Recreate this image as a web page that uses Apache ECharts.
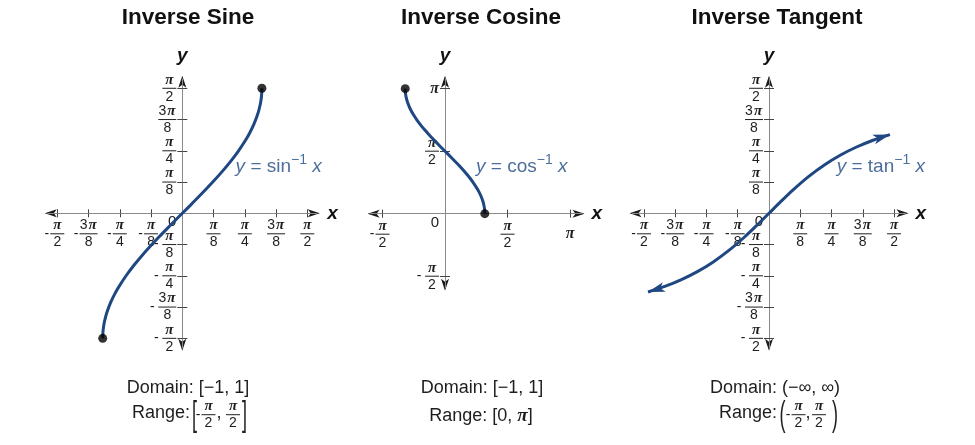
<!DOCTYPE html>
<html><head><meta charset="utf-8">
<script src="https://cdn.jsdelivr.net/npm/echarts@6/dist/echarts.min.js"></script>
<style>html,body{margin:0;padding:0;background:#fff}#c{width:975px;height:445px}</style>
</head><body><div id="c"></div>
<script>
// ---------------- data ----------------
const titles = ['Inverse Sine', 'Inverse Cosine', 'Inverse Tangent'];

const sinX = [-1,-0.999,-0.995,-0.99,-0.98,-0.95,-0.9,-0.85,-0.8,-0.7,-0.6,-0.5,-0.4,-0.3,-0.2,-0.1,0,0.1,0.2,0.3,0.4,0.5,0.6,0.7,0.8,0.85,0.9,0.95,0.98,0.99,0.995,0.999,1];
const sinY = [-1.5708,-1.5261,-1.4706,-1.4293,-1.3705,-1.2532,-1.1198,-1.0160,-0.9273,-0.7754,-0.6435,-0.5236,-0.4115,-0.3047,-0.2014,-0.1002,0,0.1002,0.2014,0.3047,0.4115,0.5236,0.6435,0.7754,0.9273,1.0160,1.1198,1.2532,1.3705,1.4293,1.4706,1.5261,1.5708];
const sinEnds = [[-1, -1.5708], [1, 1.5708]];

const cosX = [-1,-0.999,-0.995,-0.99,-0.98,-0.95,-0.9,-0.85,-0.8,-0.7,-0.6,-0.5,-0.4,-0.3,-0.2,-0.1,0,0.1,0.2,0.3,0.4,0.5,0.6,0.7,0.8,0.85,0.9,0.95,0.98,0.99,0.995,0.999,1];
const cosY = [3.1416,3.0969,3.0414,3.0001,2.9413,2.8240,2.6906,2.5868,2.4981,2.3462,2.2143,2.0944,1.9823,1.8755,1.7722,1.6710,1.5708,1.4706,1.3694,1.2661,1.1593,1.0472,0.9273,0.7954,0.6435,0.5548,0.4510,0.3176,0.2003,0.1415,0.1002,0.0447,0];
const cosEnds = [[-1, 3.1416], [1, 0]];

const tanX = [-1.52,-1.3,-1.1,-0.9,-0.7,-0.5,-0.3,-0.15,0,0.15,0.3,0.5,0.7,0.9,1.1,1.3,1.52];
const tanY = [-0.9890,-0.9151,-0.8330,-0.7328,-0.6107,-0.4636,-0.2915,-0.1489,0,0.1489,0.2915,0.4636,0.6107,0.7328,0.8330,0.9151,0.9890];

// tick labels
const sinXTicks = ['-π/2','-3π/8','-π/4','-π/8','π/8','π/4','3π/8','π/2'];
const sinYTicks = ['-π/2','-3π/8','-π/4','-π/8','π/8','π/4','3π/8','π/2'];
const cosXTicks = ['-π/2','π/2','π'];
const cosYTicks = ['-π/2','π/2','π'];
const tanXTicks = ['-π/2','-3π/8','-π/4','-π/8','π/8','π/4','3π/8','π/2'];
const tanYTicks = ['-π/2','-3π/8','-π/4','-π/8','π/8','π/4','3π/8','π/2'];

// function labels and their anchor (data units)
const fnNames = ['sin', 'cos', 'tan'];
const sinLabelAt = [0.67, 0.58];
const cosLabelAt = [0.78, 1.17];
const tanLabelAt = [0.85, 0.58];

// bottom texts
const domainTexts = ['Domain: [−1, 1]', 'Domain: [−1, 1]', 'Domain: (−∞, ∞)'];
const rangeLow = ['-π/2', '0', '-π/2'];
const rangeHigh = ['π/2', 'π', 'π/2'];
const rangeBrackets = [['[', ']'], ['[', ']'], ['(', ')']];

// ---------------- helpers ----------------
const FONT = '"Liberation Sans", Arial, sans-serif';
const PIFONT = '"Liberation Serif", "Times New Roman", serif';
const INK = '#1e1e1e';
const BLUE = '#1f4781';

function parse(l) {
  const neg = l[0] === '-';
  const s = neg ? l.slice(1) : l;
  const parts = s.split('π');
  return { neg, coef: parts[0], den: parts.length > 1 && parts[1] ? parts[1].slice(1) : '' };
}
function valueOf(l) {
  if (l === '0') return 0;
  const p = parse(l);
  return (p.neg ? -1 : 1) * (p.coef ? +p.coef : 1) * Math.PI / (p.den ? +p.den : 1);
}
function richStyles() {
  const base = { color: INK, fill: INK, fontFamily: FONT, fontSize: 14, align: 'center' };
  const pi = Object.assign({}, base, { fontFamily: PIFONT, fontWeight: 'bold', fontStyle: 'italic', fontSize: 15 });
  const bar = (w) => ({ width: w, height: 1, fontSize: 1, lineHeight: 5, backgroundColor: INK, align: 'center' });
  const m = (o) => Object.assign({}, base, o);
  const mp = (o) => Object.assign({}, pi, o);
  return {
    pad: m({ width: 7, lineHeight: 12 }),
    padm: m({ width: 7, lineHeight: 5 }),
    neg: m({ width: 7, lineHeight: 5 }),
    padY: m({ width: 12, lineHeight: 12 }),
    padYm: m({ width: 12, lineHeight: 5 }),
    negY: m({ width: 12, lineHeight: 5 }),
    p14: mp({ width: 14, lineHeight: 12 }),
    c: m({ width: 8, lineHeight: 12 }),
    q: mp({ width: 10, lineHeight: 12 }),
    b14: bar(14), b18: bar(18),
    d14: m({ width: 14, lineHeight: 12 }),
    d18: m({ width: 18, lineHeight: 12 }),
    e14: m({ width: 14, lineHeight: 12 }),
    pim: mp({ width: 14, lineHeight: 5, fontSize: 16 }),
    pib: mp({ fontSize: 16 }),
    z: m({ fontSize: 15, padding: [18, 0, 0, 0] })
  };
}
function fracLabel(l, side) {
  const p = parse(l);
  const X = side === 'x';
  const L = X ? '{pad| }' : '{padY| }';
  const Lm = p.neg ? (X ? '{neg|-}' : '{negY|-}') : (X ? '{padm| }' : '{padYm| }');
  const R = X ? '{pad| }' : '';
  const Rm = X ? '{padm| }' : '';
  if (!p.den && !p.coef) {
    if (!X) return '{pib|π}';
    return L + '{e14| }' + R + '\n' + Lm + '{pim|π}' + Rm + '\n' + L + '{e14| }' + R;
  }
  const w = p.coef ? 18 : 14;
  const num = p.coef ? '{c|' + p.coef + '}{q|π}' : '{p14|π}';
  return L + num + R + '\n' + Lm + '{b' + w + '| }' + Rm + '\n' + L + '{d' + w + '|' + p.den + '}' + R;
}
function makeFormatter(labels, side) {
  return function (v) {
    if (Math.abs(v) < 1e-9) return side === 'y' ? '{z|0}' : '';
    for (const l of labels) if (Math.abs(valueOf(l) - v) < 1e-6) return fracLabel(l, side);
    return '';
  };
}
// interleave values (outer ones first) so neighbouring list entries are far apart
function interleave(vals) {
  const out = [];
  let i = 0, j = vals.length - 1;
  while (i <= j) { out.push(vals[i]); if (i !== j) out.push(vals[j]); i++; j--; }
  return out;
}
const RICH = richStyles();

const grids = [
  { left: 47.8, top: 78.8, width: 269.0, height: 269.0 },
  { left: 370.6, top: 78.8, width: 210.9, height: 208.9 },
  { left: 632.5, top: 78.8, width: 273.0, height: 269.0 }
];

// axes are shifted from the grid edge onto the zero line of the other axis
function makeAxes(g, dim, range, other, labels, nameGap) {
  const vals = labels.map(valueOf);
  const X = dim === 'x';
  const size = X ? grids[g].height : grids[g].width;
  const span = other[1] - other[0];
  const offLow = -size * (0 - other[0]) / span;   // bottom / left
  const offHigh = -size * (other[1] - 0) / span;  // top / right
  const iv = interleave(vals);
  const labelVals = X ? iv : [iv[0], 0].concat(iv.slice(1));
  const common = { type: 'value', gridIndex: g, min: range[0], max: range[1], splitLine: { show: false }, minorTick: { show: false } };
  const A = Object.assign({}, common, {
    z: 1,
    position: X ? 'bottom' : 'left',
    offset: offLow,
    axisLine: { show: true, onZero: false, symbol: ['arrow', 'arrow'], symbolSize: [6, 12], symbolOffset: [-3, 3],
      lineStyle: { color: '#1a1a1a', width: 1 } },
    axisTick: { show: true, inside: false, length: X ? 4 : 5, customValues: vals, lineStyle: { color: '#444', width: 1 } },
    axisLabel: { show: true, customValues: labelVals, formatter: makeFormatter(labels, dim), margin: 6,
      rich: RICH, color: INK, fontSize: 14, fontFamily: FONT, hideOverlap: false, showMinLabel: true, showMaxLabel: true },
    name: dim, nameLocation: 'end', nameGap: nameGap,
    nameTextStyle: { fontSize: 19, fontWeight: 'bold', fontStyle: 'italic', color: '#111', fontFamily: FONT }
  });
  const B = Object.assign({}, common, {
    z: 2,
    position: X ? 'top' : 'right',
    offset: offHigh,
    axisLine: { show: true, onZero: false, symbol: ['none', 'none'], lineStyle: { color: '#8a8a8a', width: 1 } },
    axisTick: { show: true, inside: false, length: X ? 4 : 5, customValues: vals, lineStyle: { color: '#444', width: 1 } },
    axisLabel: { show: false }
  });
  return [A, B];
}

const ranges = [
  { x: [-1.69, 1.69], y: [-1.69, 1.69] },
  { x: [-1.87, 3.43], y: [-1.86, 3.39] },
  { x: [-1.715, 1.715], y: [-1.69, 1.69] }
];
const xAxes = [].concat(
  makeAxes(0, 'x', ranges[0].x, ranges[0].y, sinXTicks, 10),
  makeAxes(1, 'x', ranges[1].x, ranges[1].y, cosXTicks, 10),
  makeAxes(2, 'x', ranges[2].x, ranges[2].y, tanXTicks, 10)
);
const yAxes = [].concat(
  makeAxes(0, 'y', ranges[0].y, ranges[0].x, sinYTicks, 14),
  makeAxes(1, 'y', ranges[1].y, ranges[1].x, cosYTicks, 14),
  makeAxes(2, 'y', ranges[2].y, ranges[2].x, tanYTicks, 14)
);

const zip = (a, b) => a.map((x, i) => [x, b[i]]);
const tanData = tanX.map((x, i) => ({ value: [x, tanY[i]] }));
Object.assign(tanData[0], { symbol: 'arrow', symbolSize: [7.5, 17], symbolRotate: 107 });
Object.assign(tanData[tanData.length - 1], { symbol: 'arrow', symbolSize: [7.5, 17], symbolRotate: -73 });

function curve(g, data) {
  return { type: 'line', xAxisIndex: 2 * g, yAxisIndex: 2 * g, data: data, symbol: 'none', showSymbol: true,
    smooth: 0.3, lineStyle: { color: BLUE, width: 3 }, itemStyle: { color: BLUE }, z: 3, silent: true };
}
function ends(g, data) {
  return { type: 'scatter', xAxisIndex: 2 * g, yAxisIndex: 2 * g, data: data, symbol: 'circle', symbolSize: 9,
    itemStyle: { color: '#000' }, z: 4, silent: true };
}
function fnLabel(g, at, fn) {
  return { type: 'scatter', xAxisIndex: 2 * g, yAxisIndex: 2 * g, data: [at], symbolSize: 0, silent: true, z: 5,
    itemStyle: { color: 'transparent' },
    label: { show: true, position: 'right', distance: 0,
      formatter: '{i|y}{t| = ' + fn + '}{s|−1}{t| }{i|x}',
      rich: {
        i: { fontFamily: FONT, fontSize: 19, fontStyle: 'italic', color: BLUE },
        t: { fontFamily: FONT, fontSize: 19, color: BLUE },
        s: { fontFamily: FONT, fontSize: 14, color: BLUE, padding: [0, 0, 14, 0] }
      } } };
}

// ---------------- graphic texts ----------------
const titleX = [188, 481, 777];
const bottomX = [188, 482, 775];
const graphic = [];
titles.forEach((t, i) => graphic.push({ type: 'text', x: titleX[i], y: 17.4,
  style: { text: t, font: 'bold 22.5px ' + FONT, fill: '#111', align: 'center', verticalAlign: 'middle' } }));
domainTexts.forEach((t, i) => graphic.push({ type: 'text', x: bottomX[i], y: 388,
  style: { text: t, font: '18px ' + FONT, fill: INK, align: 'center', verticalAlign: 'middle' } }));

function txt(x, y, text, opts) {
  return { type: 'text', x: x, y: y,
    style: Object.assign({ text: text, font: '18px ' + FONT, fill: INK, align: 'center', verticalAlign: 'middle' }, opts || {}) };
}
function fracText(x, y, l) {
  return { type: 'text', x: x, y: y, style: { text: fracLabel(l, 'x'), rich: RICH, fill: INK, font: '14px ' + FONT,
    align: 'center', verticalAlign: 'middle' } };
}
const rangeLayout = [
  { label: 190, open: 194.5, f1: 208.5, comma: 219, f2: 233, close: 244.5 },
  null,
  { label: 777, open: 782.5, f1: 798.5, comma: 808, f2: 819, close: 835 }
];
[0, 2].forEach(i => {
  const L = rangeLayout[i];
  graphic.push(txt(L.label, 412.8, 'Range:', { align: 'right' }));
  graphic.push(Object.assign(txt(L.open, 416.5, rangeBrackets[i][0]), { scaleY: 1.9 }));
  graphic.push(fracText(L.f1, 414.7, rangeLow[i]));
  graphic.push(txt(L.comma, 412.8, ','));
  graphic.push(fracText(L.f2, 414.7, rangeHigh[i]));
  graphic.push(Object.assign(txt(L.close, 416.5, rangeBrackets[i][1]), { scaleY: 1.9 }));
});
graphic.push({ type: 'text', x: 481, y: 416, style: {
  text: '{t|Range: ' + rangeBrackets[1][0] + rangeLow[1] + ', }{p|' + rangeHigh[1] + '}{t|' + rangeBrackets[1][1] + '}',
  rich: { t: { fill: INK, fontFamily: FONT, fontSize: 18 }, p: { fill: INK, fontFamily: PIFONT, fontWeight: 'bold', fontStyle: 'italic', fontSize: 19 } },
  align: 'center', verticalAlign: 'middle' } });

const chart = echarts.init(document.getElementById('c'), null, { renderer: 'canvas' });
chart.setOption({
  animation: false,
  backgroundColor: '#fff',
  grid: grids.map(g => Object.assign({ outerBoundsMode: 'none', containLabel: false }, g)),
  xAxis: xAxes,
  yAxis: yAxes,
  series: [
    curve(0, zip(sinX, sinY)), ends(0, sinEnds), fnLabel(0, sinLabelAt, fnNames[0]),
    curve(1, zip(cosX, cosY)), ends(1, cosEnds), fnLabel(1, cosLabelAt, fnNames[1]),
    curve(2, tanData), fnLabel(2, tanLabelAt, fnNames[2])
  ],
  graphic: graphic
});
</script>
</body></html>
